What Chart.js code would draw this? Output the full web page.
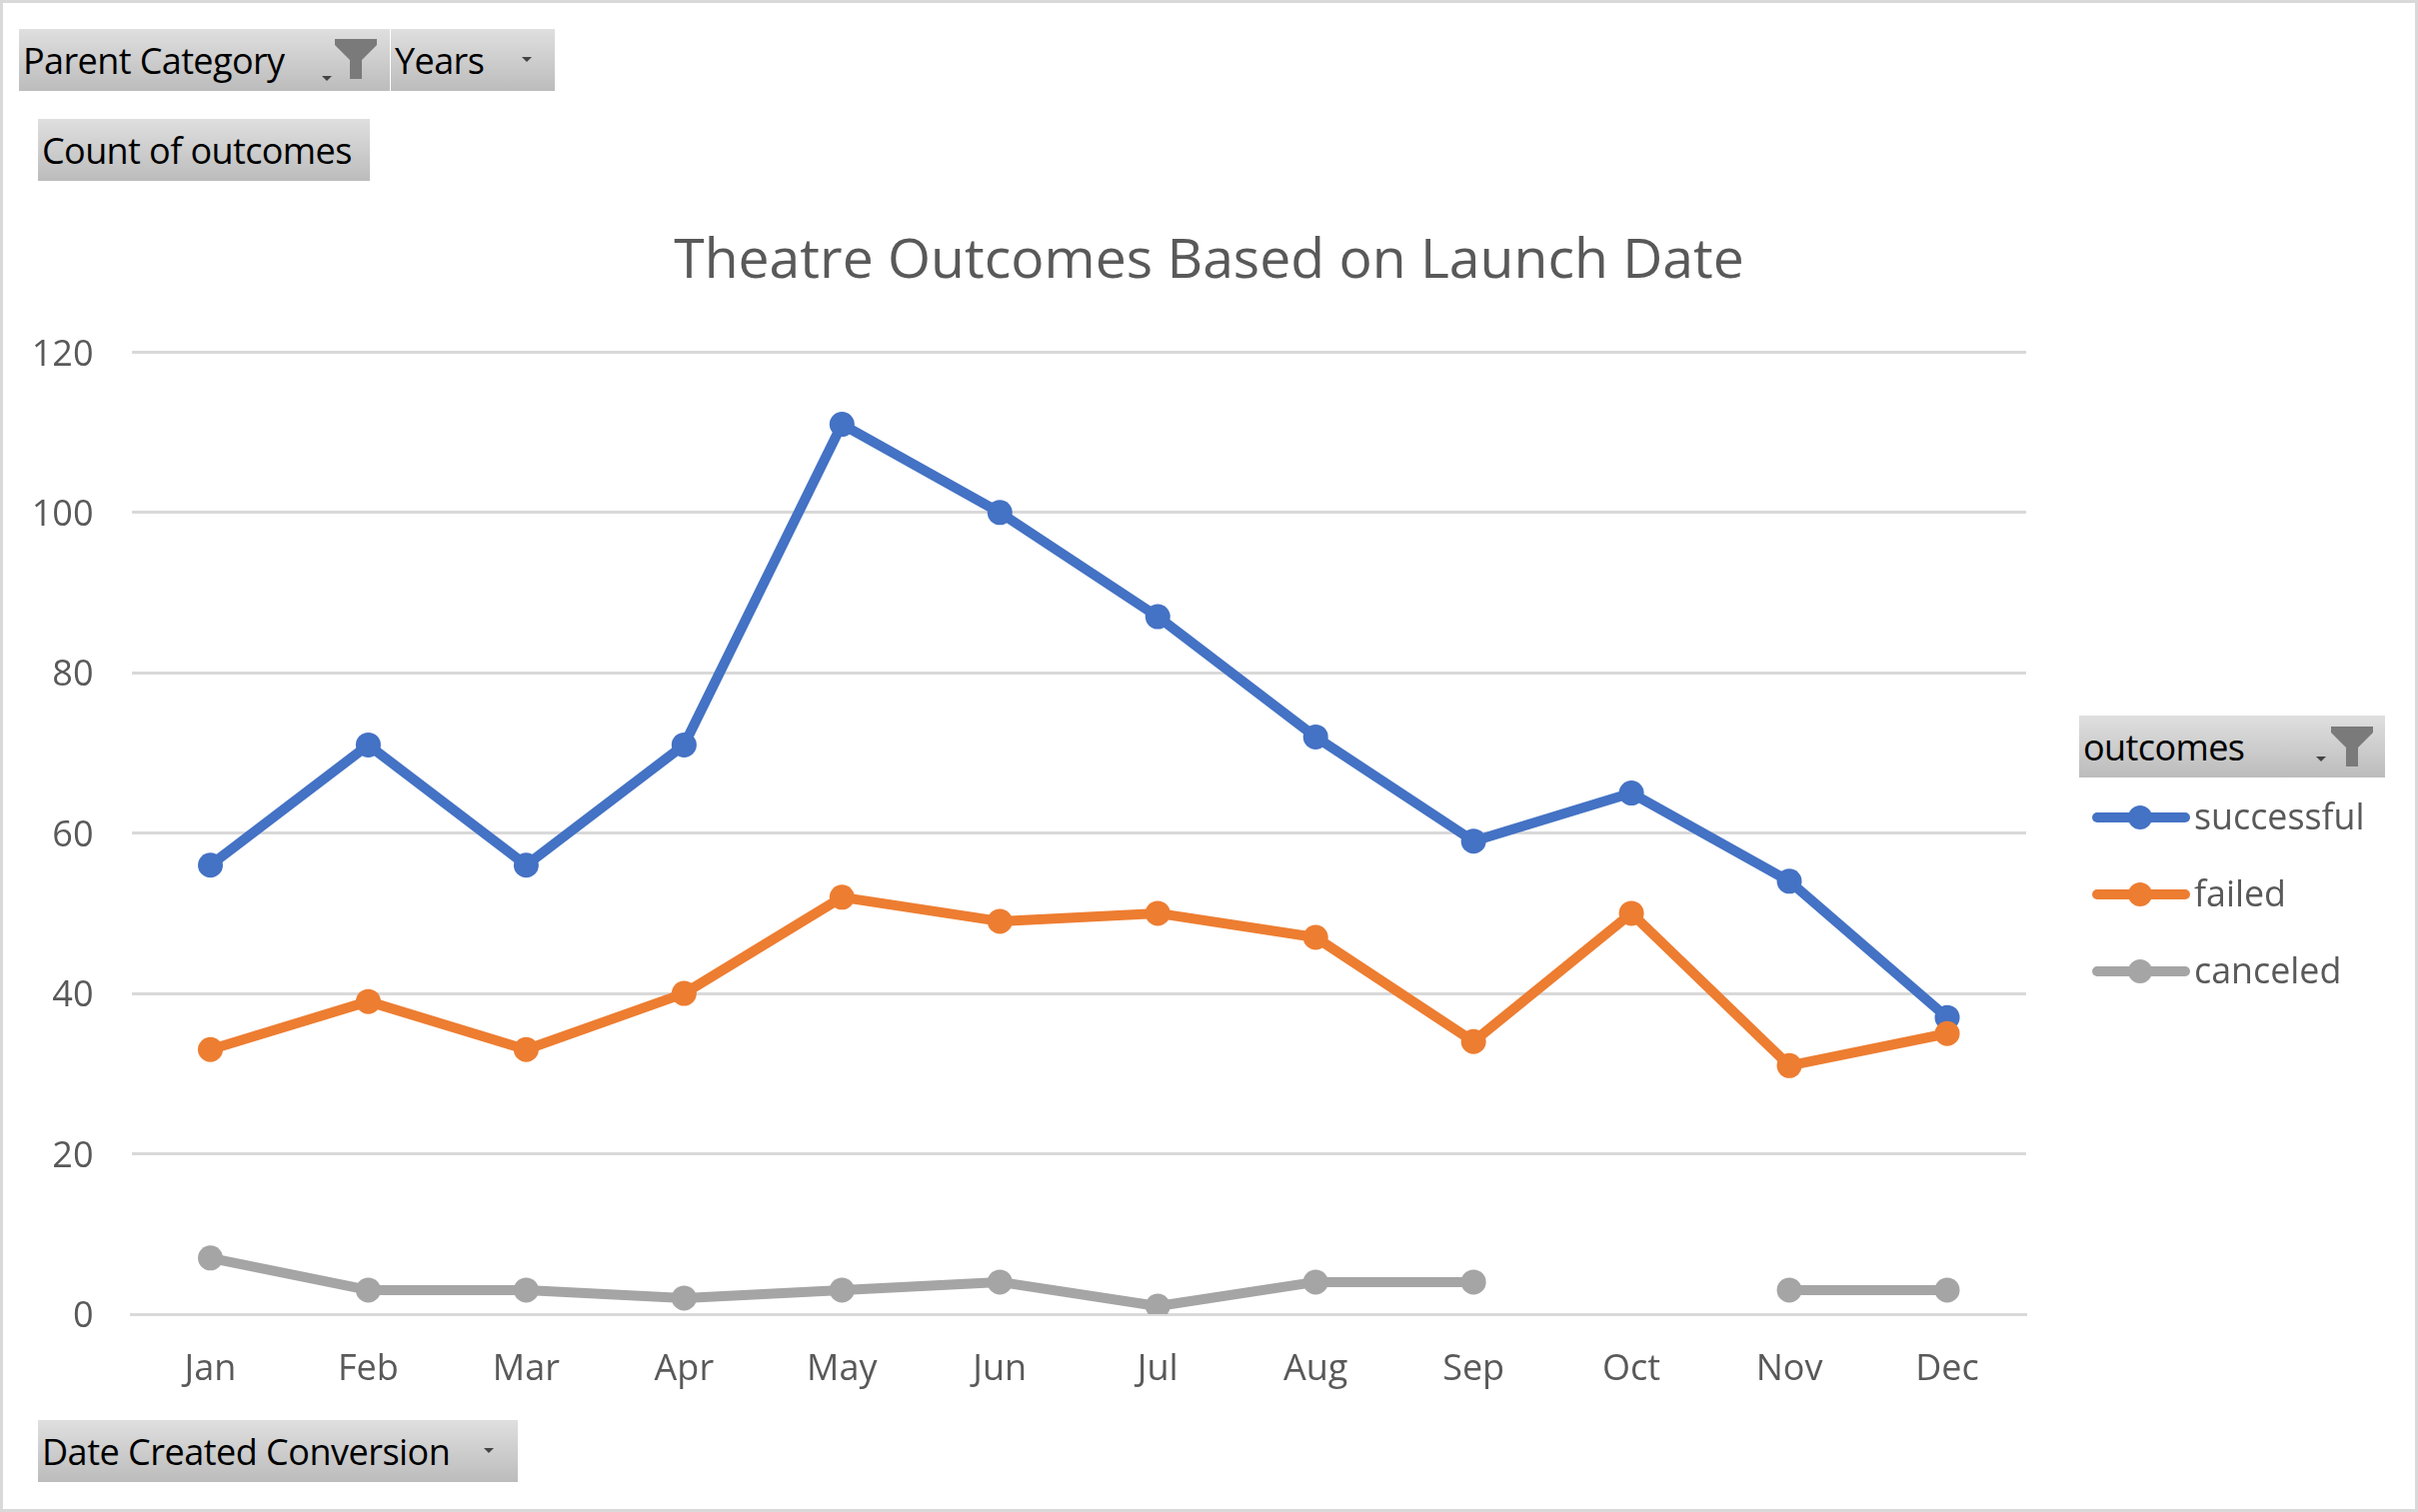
<!DOCTYPE html>
<html>
<head>
<meta charset="utf-8">
<script src="https://cdn.jsdelivr.net/npm/chart.js@4"></script>
<style>
  html, body { margin: 0; padding: 0; background: #fff; overflow: hidden; }
  #wrap { position: relative; width: 2419px; height: 1513px; }
  #frame { position: absolute; left: 0; top: 0; width: 2413px; height: 1507px; border: 3px solid #d9d9d9; }
  canvas { position: absolute; left: 0; top: 0; }
  .btn {
    position: absolute; height: 62px; box-sizing: border-box; padding-left: 4px;
    background: linear-gradient(#dfdfdf, #bcbcbc); color: #000;
    font: 36px/64px "Open Sans", sans-serif; white-space: nowrap; letter-spacing: -0.6px;
  }
  .arrow { position: absolute; width: 0; height: 0; border-left: 5px solid transparent; border-right: 5px solid transparent; border-top: 5px solid #444; }
  .funnel { position: absolute; width: 42px; height: 40px; }
  .row { position: absolute; left: 2093px; height: 40px; }
  .row i { position: absolute; left: 0; top: 15px; width: 98px; height: 10px; border-radius: 5px; }
  .row b { position: absolute; left: 36px; top: 8px; width: 24px; height: 24px; border-radius: 50%; }
  .row span { position: absolute; left: 102px; top: -6px; font: 35.8px/50px "Open Sans", sans-serif; color: #595959; white-space: nowrap; }
</style>
</head>
<body>
<div id="wrap">
  <canvas id="outcomesChart" width="2419" height="1513"></canvas>
  <div id="frame"></div>
  <div class="btn" style="left:19px;top:29px;width:371px">Parent Category
    <div class="arrow" style="left:303px;top:47px"></div>
    <svg class="funnel" style="left:316px;top:10px" viewBox="0 0 42 40"><path d="M0 0H42V6L27 21V40H15V21L0 6Z" fill="#7a7a7a"/></svg>
  </div>
  <div class="btn" style="left:391px;top:29px;width:164px">Years
    <div class="arrow" style="left:131px;top:28px"></div>
  </div>
  <div class="btn" style="left:38px;top:119px;width:332px">Count of outcomes</div>
  <div class="btn" style="left:38px;top:1421px;width:480px;letter-spacing:-0.5px">Date Created Conversion
    <div class="arrow" style="left:446px;top:28px"></div>
  </div>
  <div class="btn" style="left:2080px;top:716px;width:306px">outcomes
    <div class="arrow" style="left:237px;top:41px"></div>
    <svg class="funnel" style="left:252px;top:11px" viewBox="0 0 42 40"><path d="M0 0H42V6L27 21V40H15V21L0 6Z" fill="#7a7a7a"/></svg>
  </div>
  <div id="legend"></div>
</div>
<script>
const months = ['Jan', 'Feb', 'Mar', 'Apr', 'May', 'Jun', 'Jul', 'Aug', 'Sep', 'Oct', 'Nov', 'Dec'];
const successful = [56, 71, 56, 71, 111, 100, 87, 72, 59, 65, 54, 37];
const failed = [33, 39, 33, 40, 52, 49, 50, 47, 34, 50, 31, 35];
const canceled = [7, 3, 3, 2, 3, 4, 1, 4, 4, null, 3, 3];

const tickFont = { family: '"Open Sans", sans-serif', size: 36 };
const gridColor = '#d9d9d9';

function line(label, values, color, order) {
    return {
        label: label,
        data: values,
        borderColor: color,
        backgroundColor: color,
        pointBackgroundColor: color,
        pointBorderWidth: 0,
        borderWidth: 10,
        pointRadius: 12.5,
        borderCapStyle: 'round',
        borderJoinStyle: 'round',
        spanGaps: false,
        tension: 0,
        order: order
    };
}

// html legend, the native one can't do line + dot with this spacing
const htmlLegend = {
    id: 'htmlLegend',
    afterUpdate(chart) {
        const box = document.getElementById('legend');
        box.innerHTML = '';
        chart.data.datasets.forEach((ds, i) => {
            const row = document.createElement('div');
            row.className = 'row';
            row.style.top = (797 + i * 77) + 'px';
            row.innerHTML = '<i style="top:16px;background:' + ds.borderColor + '"></i><b style="top:9px;background:' + ds.borderColor + '"></b><span>' + ds.label + '</span>';
            box.appendChild(row);
        });
    }
};

// title centred on the whole canvas, y tick text sits a bit lower than chart.js puts it
const nudges = {
    id: 'nudges',
    afterLayout(chart) { chart.titleBlock.right = chart.width; },
    beforeDraw(chart) {
        chart.scales.y.getLabelItems().forEach(item => { item.textOffset = 3; });
    }
};

new Chart(document.getElementById('outcomesChart').getContext('2d'), {
    type: 'line',
    data: {
        labels: months,
        datasets: [
            line('successful', successful, '#4472c4', 3),
            line('failed', failed, '#ed7d31', 2),
            line('canceled', canceled, '#a5a5a5', 1)
        ]
    },
    options: {
        responsive: false,
        animation: false,
        devicePixelRatio: 1,
        layout: { padding: { right: 392 } },
        plugins: {
            legend: { display: false },
            tooltip: { enabled: false },
            title: {
                display: true,
                text: 'Theatre Outcomes Based on Launch Date',
                color: '#595959',
                font: { family: '"Open Sans", sans-serif', size: 55.3, weight: 'normal', lineHeight: 1.2 },
                padding: { top: 229, bottom: 57 }
            }
        },
        scales: {
            x: {
                offset: true,
                afterFit(axis) { axis.height = 198; },
                grid: { display: false },
                border: { display: true, color: gridColor, width: 3 },
                ticks: { color: '#595959', font: tickFont, padding: 26, maxRotation: 0 }
            },
            y: {
                min: 0,
                max: 120,
                afterFit(axis) { axis.width = 131.5; },
                grid: { color: gridColor, lineWidth: 3, drawTicks: false },
                border: { display: false },
                ticks: { stepSize: 20, color: '#595959', font: tickFont, padding: 38 }
            }
        }
    },
    plugins: [htmlLegend, nudges]
});
</script>
</body>
</html>
